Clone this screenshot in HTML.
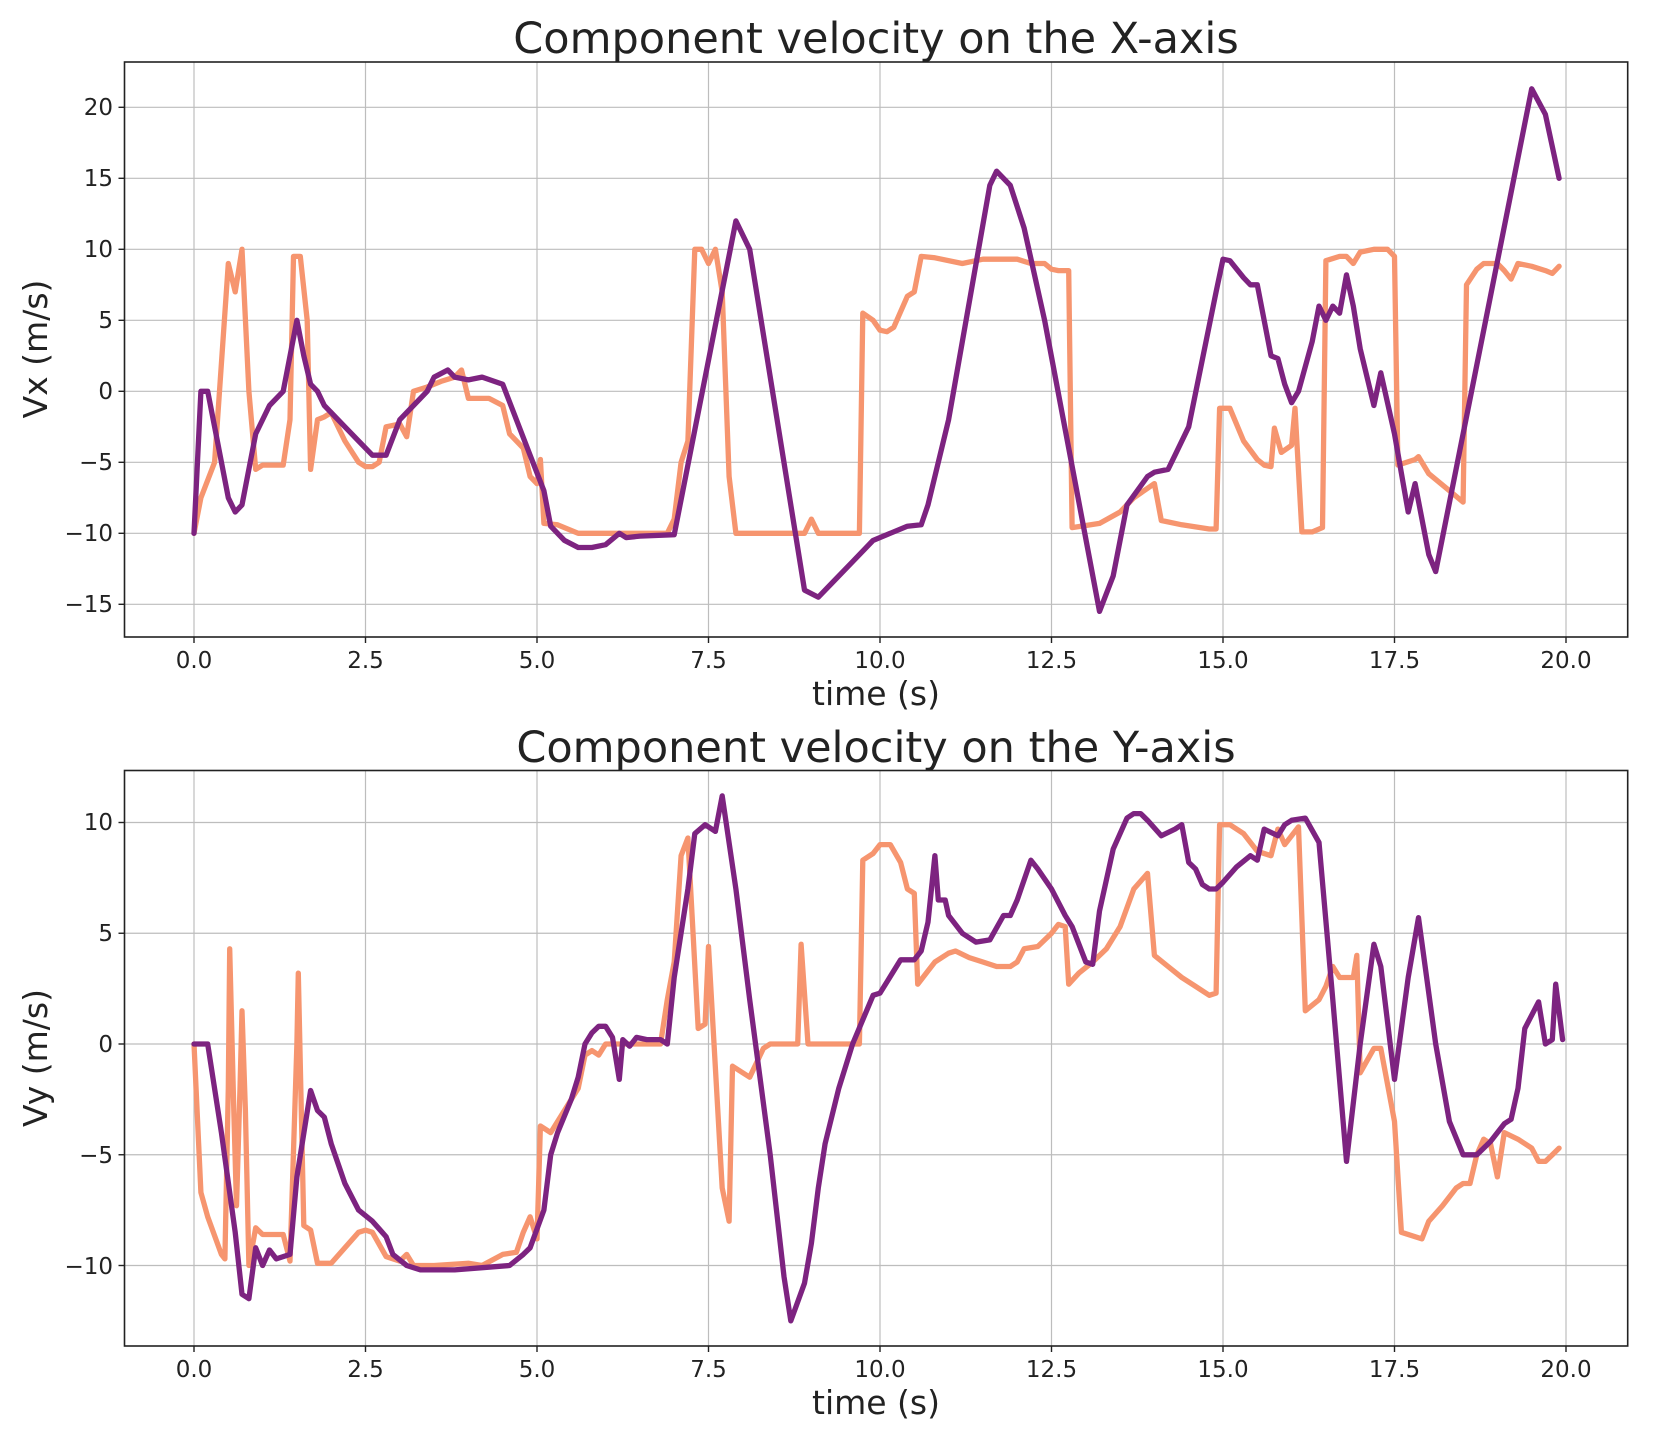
<!DOCTYPE html>
<html><head><meta charset="utf-8"><style>
body{margin:0;background:#fff}
svg{display:block;font-family:"DejaVu Sans","Liberation Sans",sans-serif;fill:#222}
.tk{font-size:23px}
</style></head><body>
<svg id="s" width="1653" height="1434" viewBox="0 0 1653 1434" xmlns="http://www.w3.org/2000/svg">
<rect width="1653" height="1434" fill="#fff"/>
<g id="grid"></g>
<g id="lines" fill="none" stroke-linejoin="round" stroke-linecap="round"></g>
<rect x="124.5" y="62" width="1503.2" height="575" fill="none" stroke="#222" stroke-width="1.6"/>
<rect x="124.5" y="770.5" width="1503.2" height="575.5" fill="none" stroke="#222" stroke-width="1.6"/>
<text x="876" y="53" font-size="43" text-anchor="middle">Component velocity on the X-axis</text>
<text x="876" y="762" font-size="43" text-anchor="middle">Component velocity on the Y-axis</text>
<text x="876" y="705" font-size="33" text-anchor="middle">time (s)</text>
<text x="876" y="1414" font-size="33" text-anchor="middle">time (s)</text>
<text transform="translate(47,349) rotate(-90)" font-size="33" text-anchor="middle">Vx (m/s)</text>
<text transform="translate(47,1058) rotate(-90)" font-size="33" text-anchor="middle">Vy (m/s)</text>
<g class="tk" text-anchor="middle">
<text x="194" y="668">0.0</text><text x="365.5" y="668">2.5</text><text x="537" y="668">5.0</text><text x="708.5" y="668">7.5</text><text x="880" y="668">10.0</text><text x="1051.5" y="668">12.5</text><text x="1223" y="668">15.0</text><text x="1394.5" y="668">17.5</text><text x="1566" y="668">20.0</text>
<text x="194" y="1377">0.0</text><text x="365.5" y="1377">2.5</text><text x="537" y="1377">5.0</text><text x="708.5" y="1377">7.5</text><text x="880" y="1377">10.0</text><text x="1051.5" y="1377">12.5</text><text x="1223" y="1377">15.0</text><text x="1394.5" y="1377">17.5</text><text x="1566" y="1377">20.0</text>
</g>
<g class="tk" text-anchor="end">
<text x="113" y="115">20</text><text x="113" y="186">15</text><text x="113" y="257">10</text><text x="113" y="328">5</text><text x="113" y="399">0</text><text x="113" y="470">−5</text><text x="113" y="541">−10</text><text x="113" y="612">−15</text>
<text x="113" y="830">10</text><text x="113" y="941">5</text><text x="113" y="1052">0</text><text x="113" y="1163">−5</text><text x="113" y="1274">−10</text>
</g>
</svg>
<script>
var NS="http://www.w3.org/2000/svg";
function X(t){return 194+t*68.6}
function Y1(v){return 391.3-v*14.2}
function Y2(v){return 1044-v*22.15}
var g=document.getElementById('grid'),L=document.getElementById('lines');
function ln(x1,y1,x2,y2,c,w){var e=document.createElementNS(NS,'line');e.setAttribute('x1',x1);e.setAttribute('y1',y1);e.setAttribute('x2',x2);e.setAttribute('y2',y2);e.setAttribute('stroke',c);e.setAttribute('stroke-width',w);g.appendChild(e);}
for(var i=0;i<=8;i++){var x=X(i*2.5);ln(x,62,x,637,'#bdbdbd',1.2);ln(x,770.5,x,1346,'#bdbdbd',1.2);ln(x,637,x,643,'#222',1.4);ln(x,1346,x,1352,'#222',1.4);}
for(var v=-15;v<=20;v+=5){var y=Y1(v);ln(124.5,y,1627.7,y,'#bdbdbd',1.2);ln(118.5,y,124.5,y,'#222',1.4);}
for(var v=-10;v<=10;v+=5){var y=Y2(v);ln(124.5,y,1627.7,y,'#bdbdbd',1.2);ln(118.5,y,124.5,y,'#222',1.4);}
function pl(d,Y,c,w){var p=[];for(var i=0;i<d.length;i+=2)p.push(X(d[i]).toFixed(1)+','+Y(d[i+1]).toFixed(1));var e=document.createElementNS(NS,'polyline');e.setAttribute('points',p.join(' '));e.setAttribute('stroke',c);e.setAttribute('stroke-width',w);L.appendChild(e);}
var oX=[0,-10,0.1,-7.5,0.3,-5,0.5,9,0.6,7,0.7,10,0.8,0,0.9,-5.5,1.0,-5.2,1.3,-5.2,1.4,-2,1.45,9.5,1.55,9.5,1.65,5,1.7,-5.5,1.8,-2,1.9,-1.8,2.0,-1.5,2.2,-3.5,2.4,-5,2.5,-5.3,2.6,-5.3,2.7,-5,2.8,-2.5,3.0,-2.3,3.1,-3.2,3.2,0,3.4,0.3,3.6,0.7,3.8,1,3.9,1.5,4.0,-0.5,4.3,-0.5,4.5,-1,4.6,-3,4.8,-4,4.9,-6,5.0,-6.5,5.05,-4.8,5.1,-9.3,5.3,-9.4,5.6,-10,6.0,-10,6.9,-10,7.0,-9,7.1,-5,7.2,-3.5,7.3,10,7.4,10,7.5,9,7.6,10,7.7,7,7.8,-6,7.9,-10,8.0,-10,8.3,-10,8.9,-10,9.0,-9,9.1,-10,9.3,-10,9.7,-10,9.75,5.5,9.9,5,10.0,4.3,10.1,4.2,10.2,4.5,10.4,6.7,10.5,7,10.6,9.5,10.8,9.4,11.2,9,11.5,9.3,12.0,9.3,12.2,9,12.4,9,12.5,8.6,12.6,8.5,12.75,8.5,12.8,-9.6,13.2,-9.3,13.5,-8.5,13.7,-7.5,14.0,-6.5,14.1,-9.1,14.4,-9.4,14.8,-9.7,14.9,-9.7,14.95,-1.2,15.1,-1.2,15.3,-3.5,15.5,-4.8,15.6,-5.2,15.7,-5.3,15.75,-2.6,15.85,-4.3,16.0,-3.8,16.05,-1.2,16.15,-9.9,16.3,-9.9,16.45,-9.6,16.5,9.2,16.7,9.5,16.8,9.5,16.9,9,17.0,9.8,17.2,10,17.4,10,17.5,9.5,17.55,-5.2,17.8,-4.8,17.85,-4.6,18.0,-5.8,18.3,-7,18.5,-7.8,18.55,7.5,18.7,8.6,18.8,9,19.0,9,19.1,8.5,19.2,7.9,19.3,9,19.5,8.8,19.7,8.5,19.8,8.3,19.9,8.8];
var pX=[0,-10,0.1,0,0.2,0,0.3,-2.5,0.5,-7.5,0.6,-8.5,0.7,-8,0.9,-3,1.1,-1,1.3,0,1.5,5,1.6,2.5,1.7,0.5,1.8,0,1.9,-1,2.0,-1.5,2.2,-2.5,2.4,-3.5,2.6,-4.5,2.8,-4.5,3.0,-2,3.2,-1,3.4,0,3.5,1,3.7,1.5,3.8,1,4.0,0.8,4.2,1,4.5,0.5,4.7,-2,4.9,-4.5,5.1,-7,5.2,-9.5,5.4,-10.5,5.6,-11,5.8,-11,6.0,-10.8,6.2,-10,6.3,-10.3,6.5,-10.2,7.0,-10.1,7.9,12,8.1,10,8.9,-14,9.1,-14.5,9.3,-13.5,9.6,-12,9.9,-10.5,10.4,-9.5,10.6,-9.4,10.7,-8,11.0,-2,11.6,14.5,11.7,15.5,11.9,14.5,12.1,11.5,12.4,5,13.2,-15.5,13.4,-13,13.6,-8,13.9,-6,14.0,-5.7,14.2,-5.5,14.3,-4.5,14.5,-2.5,14.9,7,15.0,9.3,15.1,9.2,15.3,8,15.4,7.5,15.5,7.5,15.7,2.5,15.8,2.3,15.9,0.5,16.0,-0.8,16.1,0,16.3,3.5,16.4,6,16.5,5,16.6,6,16.7,5.5,16.8,8.2,16.9,6,17.0,3,17.2,-1,17.3,1.3,17.5,-3,17.7,-8.5,17.8,-6.5,18.0,-11.5,18.1,-12.7,18.5,-3,19.5,21.3,19.7,19.5,19.9,15];
var oY=[0,0,0.1,-6.7,0.2,-7.8,0.4,-9.5,0.45,-9.7,0.5,-2,0.52,4.3,0.58,-3,0.62,-7.3,0.67,-2,0.7,1.5,0.75,-3,0.8,-10,0.9,-8.3,1.0,-8.6,1.3,-8.6,1.4,-9.8,1.5,0,1.52,3.2,1.6,-8.2,1.7,-8.4,1.8,-9.9,2.0,-9.9,2.2,-9.2,2.4,-8.5,2.5,-8.4,2.6,-8.5,2.8,-9.6,3.0,-9.8,3.1,-9.5,3.2,-10,3.5,-10,4.0,-9.9,4.2,-10,4.5,-9.5,4.7,-9.4,4.8,-8.5,4.9,-7.8,5.0,-8.8,5.05,-3.7,5.2,-4,5.4,-3,5.6,-2,5.7,-0.5,5.8,-0.3,5.9,-0.5,6.0,0,6.8,0,6.9,2,7.0,3.7,7.1,8.5,7.2,9.3,7.35,0.7,7.45,0.9,7.5,4.4,7.7,-6.5,7.8,-8,7.85,-1,8.0,-1.3,8.1,-1.5,8.3,-0.2,8.4,0,8.8,0,8.85,4.5,8.95,0,9.7,0,9.75,8.3,9.9,8.6,10.0,9,10.15,9,10.3,8.2,10.4,7,10.5,6.8,10.55,2.7,10.7,3.3,10.8,3.7,11.0,4.1,11.1,4.2,11.3,3.9,11.5,3.7,11.7,3.5,11.9,3.5,12.0,3.7,12.1,4.3,12.3,4.4,12.5,5,12.6,5.4,12.7,5.3,12.75,2.7,12.9,3.2,13.1,3.7,13.3,4.3,13.5,5.3,13.7,7,13.9,7.7,14.0,4,14.2,3.5,14.4,3,14.6,2.6,14.8,2.2,14.9,2.3,14.95,9.9,15.1,9.9,15.3,9.5,15.5,8.7,15.7,8.5,15.8,9.7,15.9,9,16.0,9.4,16.1,9.8,16.2,1.5,16.4,2,16.5,2.6,16.6,3.5,16.7,3,16.9,3,16.95,4,17.0,-1.3,17.2,-0.2,17.3,-0.2,17.5,-3.5,17.6,-8.5,17.9,-8.8,18.0,-8,18.2,-7.3,18.4,-6.5,18.5,-6.3,18.6,-6.3,18.7,-5,18.8,-4.3,18.9,-4.5,19.0,-6,19.1,-4,19.3,-4.3,19.5,-4.7,19.6,-5.3,19.7,-5.3,19.8,-5,19.9,-4.7];
var pY=[0,0,0.2,0,0.4,-4,0.6,-8.5,0.7,-11.3,0.8,-11.5,0.9,-9.2,1.0,-10,1.1,-9.3,1.2,-9.7,1.4,-9.5,1.5,-6,1.7,-2.1,1.8,-3,1.9,-3.3,2.0,-4.5,2.2,-6.3,2.4,-7.5,2.6,-8,2.8,-8.7,2.9,-9.5,3.1,-10,3.3,-10.2,3.8,-10.2,4.2,-10.1,4.6,-10,4.8,-9.5,4.9,-9.2,5.1,-7.5,5.2,-5,5.3,-4,5.5,-2.5,5.6,-1.5,5.7,0,5.8,0.5,5.9,0.8,6.0,0.8,6.1,0.3,6.2,-1.6,6.25,0.2,6.35,-0.1,6.45,0.3,6.6,0.2,6.8,0.2,6.9,0,7.0,3,7.2,7,7.3,9.5,7.45,9.9,7.6,9.6,7.7,11.2,7.9,7,8.1,2,8.4,-5,8.6,-10.5,8.7,-12.5,8.9,-10.8,9.0,-9,9.1,-6.5,9.2,-4.5,9.4,-2,9.6,0,9.9,2.2,10.0,2.3,10.1,2.8,10.3,3.8,10.5,3.8,10.6,4.2,10.7,5.5,10.8,8.5,10.85,6.5,10.95,6.5,11.0,5.8,11.2,5,11.4,4.6,11.6,4.7,11.8,5.8,11.9,5.8,12.0,6.5,12.2,8.3,12.3,7.9,12.5,7,12.7,5.8,12.8,5.3,13.0,3.7,13.1,3.6,13.2,6,13.4,8.8,13.6,10.2,13.7,10.4,13.8,10.4,13.9,10.1,14.1,9.4,14.3,9.7,14.4,9.9,14.5,8.2,14.6,7.9,14.7,7.2,14.8,7,14.9,7,15.0,7.3,15.2,8,15.4,8.5,15.5,8.3,15.6,9.7,15.8,9.4,15.9,9.9,16.0,10.1,16.2,10.2,16.4,9.1,16.6,2,16.8,-5.3,17.0,0,17.2,4.5,17.3,3.5,17.5,-1.6,17.7,3,17.85,5.7,18.1,0,18.3,-3.5,18.5,-5,18.7,-5,18.9,-4.4,19.1,-3.6,19.2,-3.4,19.3,-2,19.4,0.7,19.6,1.9,19.7,0,19.8,0.2,19.85,2.7,19.95,0.2];
pl(oX,Y1,'#f6956f',5.3);pl(pX,Y1,'#7d2380',5.3);
pl(oY,Y2,'#f6956f',5.3);pl(pY,Y2,'#7d2380',5.3);
</script>
</body></html>
